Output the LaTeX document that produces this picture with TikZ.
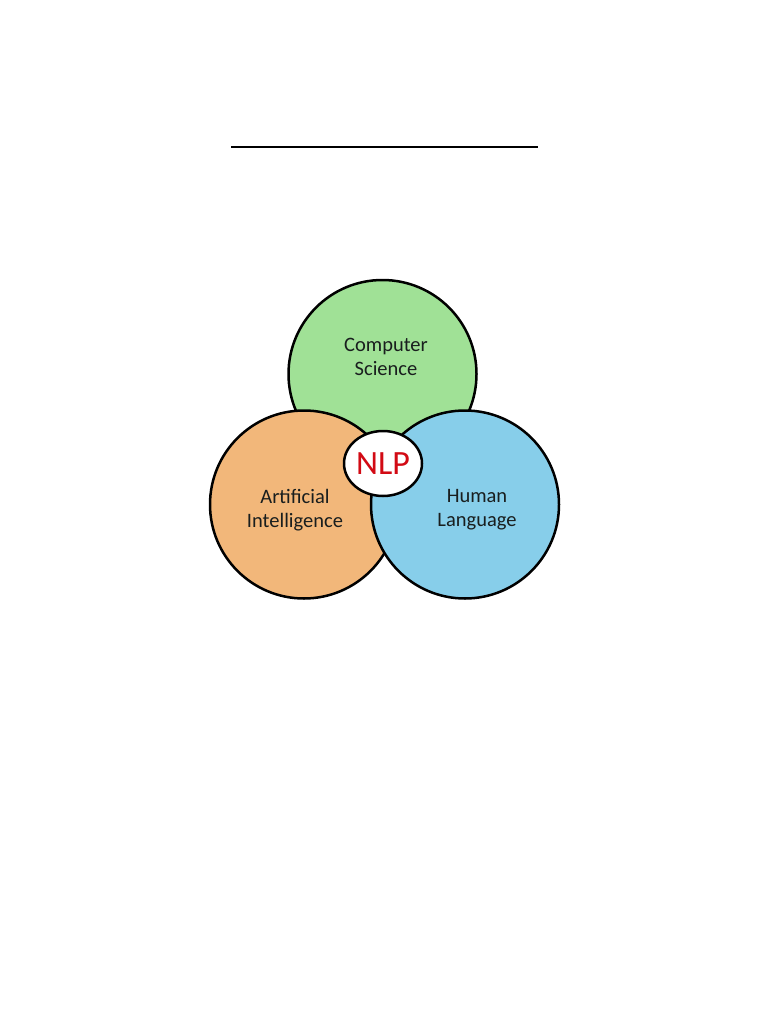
\documentclass[tikz,border=0pt]{standalone}
\usepackage{fontspec}
\setmainfont{Carlito}
\usetikzlibrary{shapes.geometric}
\definecolor{csgreen}{RGB}{160,225,150}
\definecolor{aiorange}{RGB}{242,183,122}
\definecolor{hlblue}{RGB}{135,206,234}
\definecolor{nlpred}{RGB}{210,10,20}
\definecolor{txt}{RGB}{25,30,30}
\begin{document}
\begin{tikzpicture}[x=1pt,y=-1pt,
  venn/.style={circle,draw=black,line width=2.5pt,minimum size=188pt,inner sep=0pt},
  lbl/.style={align=center,font=\fontsize{20.5}{24}\selectfont,text=txt}]
\useasboundingbox (0,0) rectangle (768,1024);
\fill[white] (0,0) rectangle (768,1024);
\coordinate (l1) at (231,147);
\coordinate (l2) at (538,147);
\draw[line width=1.2pt] (l1) -- (l2);
\node[venn,fill=csgreen] (cs) at (382.5,374) {};
\node[venn,fill=aiorange] (ai) at (304,504.5) {};
\node[venn,fill=hlblue] (hl) at (465,504.5) {};
\node[ellipse,draw=black,fill=white,line width=2.5pt,minimum width=78pt,minimum height=65pt,inner sep=0pt,font=\fontsize{34}{36}\selectfont,text=nlpred] (nlp) at (383,463.5) {NLP};
\node[lbl] (cst) at (386,357) {Computer\\Science};
\node[lbl] (ait) at (295,510) {Artificial\\Intelligence};
\node[lbl] (hlt) at (477,510) {Human\\Language};
\end{tikzpicture}
\end{document}
